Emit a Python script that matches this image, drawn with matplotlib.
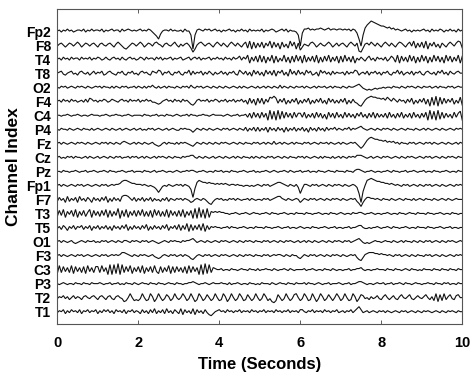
import numpy as np
import matplotlib
matplotlib.use("Agg")
import matplotlib.pyplot as plt

plt.rcParams['font.family'] = ['Liberation Sans', 'DejaVu Sans']

channels = ["Fp2", "F8", "T4", "T8", "O2", "F4", "C4", "P4", "Fz", "Cz", "Pz",
            "Fp1", "F7", "T3", "T5", "O1", "F3", "C3", "P3", "T2", "T1"]
duration_s = 10.0
x_ticks = [0, 2, 4, 6, 8, 10]
x_label = "Time (Seconds)"
y_label = "Channel Index"

# Each trace: one character per sample (every 0.05 s).
# '0'..'9' -> -5..+4, 'a'.. -> +5.., 'A'.. -> -6.., -7.., ...
fp2 = ("56465756456657465756 65746567566475676565 6756576420C256657565 5647551M167657675675 "
       "64656756465756475656 57465676456757465541 J3778676778767867767 767675763CJ18bdfedcb "
       "aa989786765675646565 67564756576465756475 6")
f8 = ("46753576468635764675 36754675368642135764 68635764786536754685 3646752B157864675368 "
      "64753686475368291827 38274928371836294817 03654786357546863574 675368647AB267586475 "
      "36864753687536849273 82917483627536864798 2")
t4 = ("56475647566475657465 76457546756475467564 57647566475746567465 67456746757465674657 "
      "56475647568475917382 92817391826392718293 81927382917283927381 82937281647536846375 "
      "64735862918372938172 93817293827193827391 8")
t8 = ("56743567453675463574 65734675436574365745 36756437658736574365 74365837465736475364 "
      "57463657438647362847 36284738275836294738 46385734628574637465 56374658735647365746 "
      "36574365847356473657 43675463758463754675 5")
o2 = ("54656456546565465456 56465546465465645564 65464657546456465546 54656475465645654654 "
      "65465456546465456546 45646546547465465465 56465456465564564655 46546556786432323434 "
      "45455465546546565465 46556456465546564565 5")
f4 = ("56475647564564748756 46576457654675647565 74657564432356756475 64756421367565746576 "
      "46574657465746283718 3827498a837482637482 63748263748362847363 748263743103689a9988 "
      "78697586475637482637 4827091a092837482639 1")
c4 = ("55455654556545545655 54556545565545565455 55465545564554655456 54556465545565545655 "
      "55456545564556372837 28370a190a1928372837 73826372837261837283 62837362748362738273 "
      "63728362738263728362 7380a190a18273628379 0")
p4 = ("54655465456546554645 65456546545645654564 56454656456545645654 46565542465465465456 "
      "54656456546547364737 36472746374627364736 47362746374637465746 54657465678654565465 "
      "46565465456546554654 56465456546545654656 5")
fz = ("56465456546565465456 54656465465467654564 65465456432356465546 46565432465465465465 "
      "46565456546546554656 45646547456465456465 54656456546556465456 46545656420258aba998 "
      "87867675646554656456 54656465456546545646 5")
cz = ("56454656465545646545 64565465465645564656 45646545646565465465 54656677546546545645 "
      "65465456465465546465 46546564565465465546 56465456546465546456 46546565777654564565 "
      "46565456546546565456 54656456546546565465 5")
pz = ("55465545565455645565 45565465545565455645 55465545645565455456 54556566545565455465 "
      "56455465545565455645 45565456545565465455 64556455465545655465 55465546776545565455 "
      "45565465545564556545 56455465545565455465 5")
fp1 = ("56465456546564565456 5465645656679aa98776 6656545431B145465456 5646541G28a988787767 "
       "67676566565545545456 54656456788765465463 C2665465645654654656 546545653CLA5abcba99 "
       "88776765654656456546 54656456546545654656 5")
f7 = ("37462836472846375274 63748263746389986473 64736473645364736546 56465423565465310356 "
      "56454656465455646545 54656456788654654565 24654656456546546565 4654565631B257766565 "
      "46554654565465546456 54655465456546545655 5")
t3 = ("28391748291738269183 7283918273a082917382 83927281938272918372 82917380a0b190a17676 "
      "76655455654556545655 45565465545565455465 55465545565455465545 65455465566545565455 "
      "45565455465545655465 55465545565455465545 5")
t5 = ("46375264736573647264 73647362746374826374 63748263746374826473 82739182738291736565 "
      "54556465545565455465 55465545565455645545 65455465545565455645 54556455677544545565 "
      "45565465545565455465 55465545565455645545 5")
o1 = ("56465456434565465564 54656456546546654656 54656456543456546565 54656678645654654565 "
      "46565456546546565465 54656456546546565456 45646546545654654656 54656456786434345655 "
      "45655465456465546546 54656456546546565456 5")
f3 = ("56465456546564565456 54656456565688765465 46565456432356546564 56465421356546564565 "
      "46565456546546565465 54656456566546546553 24654656456546546565 46545656310367888776 "
      "76656546564565465465 54656456546545654656 5")
c3 = ("19283729183728193728 829370a0a1b0a2839173 82917382931827391828 37281928370a0b1a2765 "
      "56455465545655465546 45565546545565465455 55645565455465546545 54556455667545545565 "
      "55465546554565465545 46555465546554655465 5")
p3 = ("54565455465546554655 56545564556454655465 45655465546554565546 55455667654556545655 "
      "56554645565455465545 46555465456554655465 55646554565455645556 54556455677654554565 "
      "56455645565465545655 45565546554656455465 5")
t2 = ("46574635746536754675 36753674367541259523 24952396149524862495 35962495139624852495 "
      "23961495249623852495 24962410285249524895 24962395149624852596 24952396148745364574 "
      "36853574368546843575 46853629182936843785 5")
t1 = ("46573647564736574657 36475746375647365746 53746374836473846375 38274638274637421356 "
      "75647564657465647564 65746564756465746564 77546574656475646574 564657468a7456456546 "
      "56465456546564565465 46565456546546565465 5")

traces = [fp2, f8, t4, t8, o2, f4, c4, p4, fz, cz, pz,
          fp1, f7, t3, t5, o1, f3, c3, p3, t2, t1]


def decode(s):
    out = []
    for ch in s.replace(" ", ""):
        if ch.isdigit():
            out.append(int(ch) - 5)
        elif ch.islower():
            out.append(ord(ch) - ord('a') + 5)
        else:
            out.append(-(ord(ch) - ord('A') + 6))
    return np.array(out, dtype=float)


spacing = 14.0
n_ch = len(channels)
offsets = [(n_ch - 1 - i) * spacing for i in range(n_ch)]

fig = plt.figure(figsize=(4.74, 3.72), dpi=100)
ax = fig.add_axes([57.3 / 474, 1 - 324.3 / 372, 405.0 / 474, 315.0 / 372])

for name, s, off in zip(channels, traces, offsets):
    v = decode(s)
    t = np.linspace(0, duration_s, len(v))
    ax.plot(t, v + off, color='#111111', lw=0.8, solid_joinstyle='miter')

ax.set_xlim(0, duration_s)
ax.set_ylim(-12.6, offsets[0] + 21.7)
ax.set_xticks(x_ticks)
ax.set_xticklabels([str(x) for x in x_ticks], fontsize=10.5, fontweight='bold')
ax.set_yticks(offsets)
ax.set_yticklabels(channels, fontsize=10, fontweight='bold')
ax.tick_params(axis='x', direction='in', length=3, width=0.6, pad=8.5, top=True, color='#444444')
ax.tick_params(axis='y', direction='in', length=0, pad=4.5, right=False)
for sp in ax.spines.values():
    sp.set_color('#555555')
    sp.set_linewidth(0.8)

ax.set_xlabel(x_label, fontsize=12, fontweight='bold', labelpad=5)
ax.set_ylabel(y_label, fontsize=12.5, fontweight='bold', labelpad=4)

fig.savefig('out.png', dpi=100)
